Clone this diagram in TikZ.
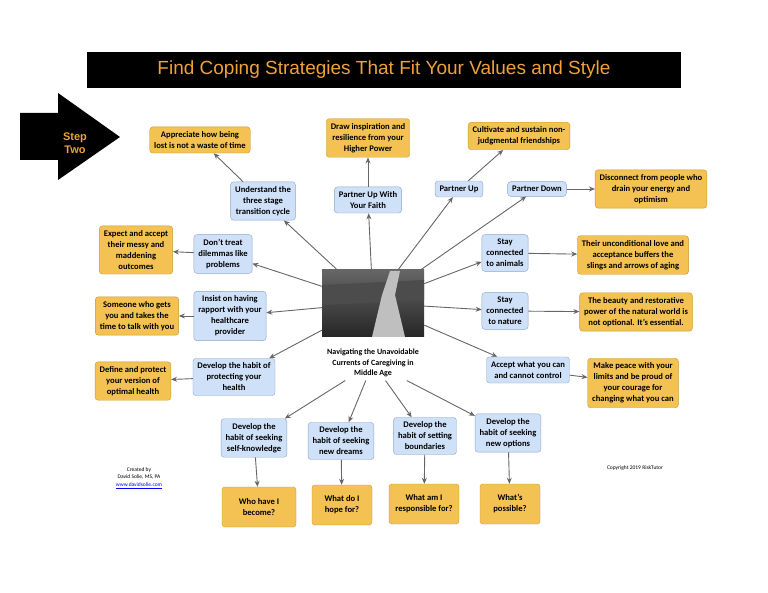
\documentclass[tikz,border=0pt]{standalone}
\usepackage{fontspec}
\setmainfont{Carlito}
\newfontfamily\titlefont{Liberation Sans}
\usetikzlibrary{arrows.meta}
\definecolor{gold}{HTML}{F3C253}
\definecolor{goldline}{HTML}{C99A2E}
\definecolor{sky}{HTML}{CFE1F8}
\definecolor{skyline}{HTML}{8AA6C8}
\definecolor{titleorange}{HTML}{F0A23A}

\begin{document}
\begin{tikzpicture}[x=1pt, y=-1pt,
    every node/.style={align=center, font=\fontsize{8.6}{11}\selectfont\bfseries},
    goal/.style={rectangle, rounded corners=3pt, draw=goldline, fill=gold, inner sep=4.5pt},
    habit/.style={rectangle, rounded corners=3pt, draw=skyline, fill=sky, inner sep=4.5pt},
    link/.style={draw=black!60, line width=0.9pt, -{Stealth[length=6pt, width=5pt]}}]
    \useasboundingbox (0,0) rectangle (768,593);
    % Title and step arrow
    \node[fill=black, minimum width=594pt, minimum height=36pt, text=titleorange,
        font=\titlefont\fontsize{19}{22}\selectfont] (title) at (384,70) {Find Coping Strategies That Fit Your Values and Style};
    \fill (20,113) -- (58,113) -- (58,93) -- (120,137) -- (58,180) -- (58,160) -- (20,160) -- cycle;
    \node[text=titleorange, font=\titlefont\bfseries\fontsize{11}{13}\selectfont] (step) at (75,143) {Step\\Two};
    % Centre picture
    \node[minimum width=102pt, minimum height=67pt, inner sep=0pt, top color=black!60, bottom color=black!85] (photo) at (373,303) {};
    \fill[black!70] (322,285) -- (424,280) -- (424,300) -- (322,305) -- cycle;
    \fill[black!25] (390,271) -- (400,271) -- (395,295) -- (405,337) -- (372,337) -- (382,295) -- cycle;
    \node[font=\fontsize{8}{10.5}\selectfont\bfseries] (cap) at (373,363) {Navigating the Unavoidable\\Currents of Caregiving in\\Middle Age};
    % Habits
    \node[habit] (b1) at (263,201) {Understand the\\three stage\\transition cycle};
    \node[habit] (b2) at (368,200) {Partner Up With\\Your Faith};
    \node[habit] (b3) at (459,189) {Partner Up};
    \node[habit] (b4) at (537,189) {Partner Down};
    \node[habit] (b5) at (223,254) {Don't treat\\dilemmas  like\\problems};
    \node[habit] (b6) at (230,316) {Insist on having\\rapport with your\\healthcare\\provider};
    \node[habit] (b7) at (234,377) {Develop the habit of\\protecting your\\health};
    \node[habit] (b8) at (505,253) {Stay\\connected\\to animals};
    \node[habit] (b9) at (505,311) {Stay\\connected\\to nature};
    \node[habit] (b10) at (528,370) {Accept what you can\\and cannot control};
    \node[habit] (b11) at (254,438) {Develop the\\habit of seeking\\self-knowledge};
    \node[habit] (b12) at (341,441) {Develop the\\habit of seeking\\new dreams};
    \node[habit] (b13) at (425,436) {Develop the\\habit of setting\\boundaries};
    \node[habit] (b14) at (508,433) {Develop the\\habit of seeking\\new options};
    % Goals
    \node[goal] (y1) at (200,140) {Appreciate how being\\lost is not a waste of time};
    \node[goal] (y2) at (368,138) {Draw inspiration and\\resilience from your\\Higher Power};
    \node[goal] (y3) at (519,136) {Cultivate and sustain non-\\judgmental friendships};
    \node[goal] (y4) at (651,189) {Disconnect from people who\\drain your energy and\\optimism};
    \node[goal] (y5) at (136,250) {Expect and accept\\their messy and\\maddening\\outcomes};
    \node[goal] (y6) at (137,316) {Someone who gets\\you and takes the\\time to talk with you};
    \node[goal] (y7) at (133,381) {Define and protect\\your version of\\optimal health};
    \node[goal] (y8) at (633,255) {Their unconditional love and\\acceptance buffers the\\slings and arrows of aging};
    \node[goal] (y9) at (636,312) {The beauty and restorative\\power of the natural world is\\not optional.  It's essential.};
    \node[goal] (y10) at (633,383) {Make peace with your\\limits and be proud of\\your courage for\\changing what you can};
    \node[goal, minimum width=74pt, minimum height=40pt] (y11) at (259,507) {Who have I\\become?};
    \node[goal, minimum width=60pt, minimum height=40pt] (y12) at (342,505) {What do I\\hope for?};
    \node[goal, minimum width=70pt, minimum height=40pt] (y13) at (424,504) {What am I\\responsible for?};
    \node[goal, minimum width=60pt, minimum height=40pt] (y14) at (510,504) {What's\\possible?};
    % Links
    \foreach \i in {1,...,10} {
        \draw[link] (photo) -- (b\i);
        \draw[link] (b\i) -- (y\i);
    }
    \foreach \i in {11,...,14} {
        \draw[link] (cap) -- (b\i);
        \draw[link] (b\i) -- (y\i);
    }
    % Credits
    \node[font=\fontsize{5.5}{7.5}\selectfont] (credit) at (139,478) {Created by\\David Solie, MS, PA\\\textcolor{blue}{\underline{www.davidsolie.com}}};
    \node[font=\fontsize{5.5}{7.5}\selectfont] (copy) at (635,468) {Copyright 2019 RiskTutor};
\end{tikzpicture}
\end{document}
